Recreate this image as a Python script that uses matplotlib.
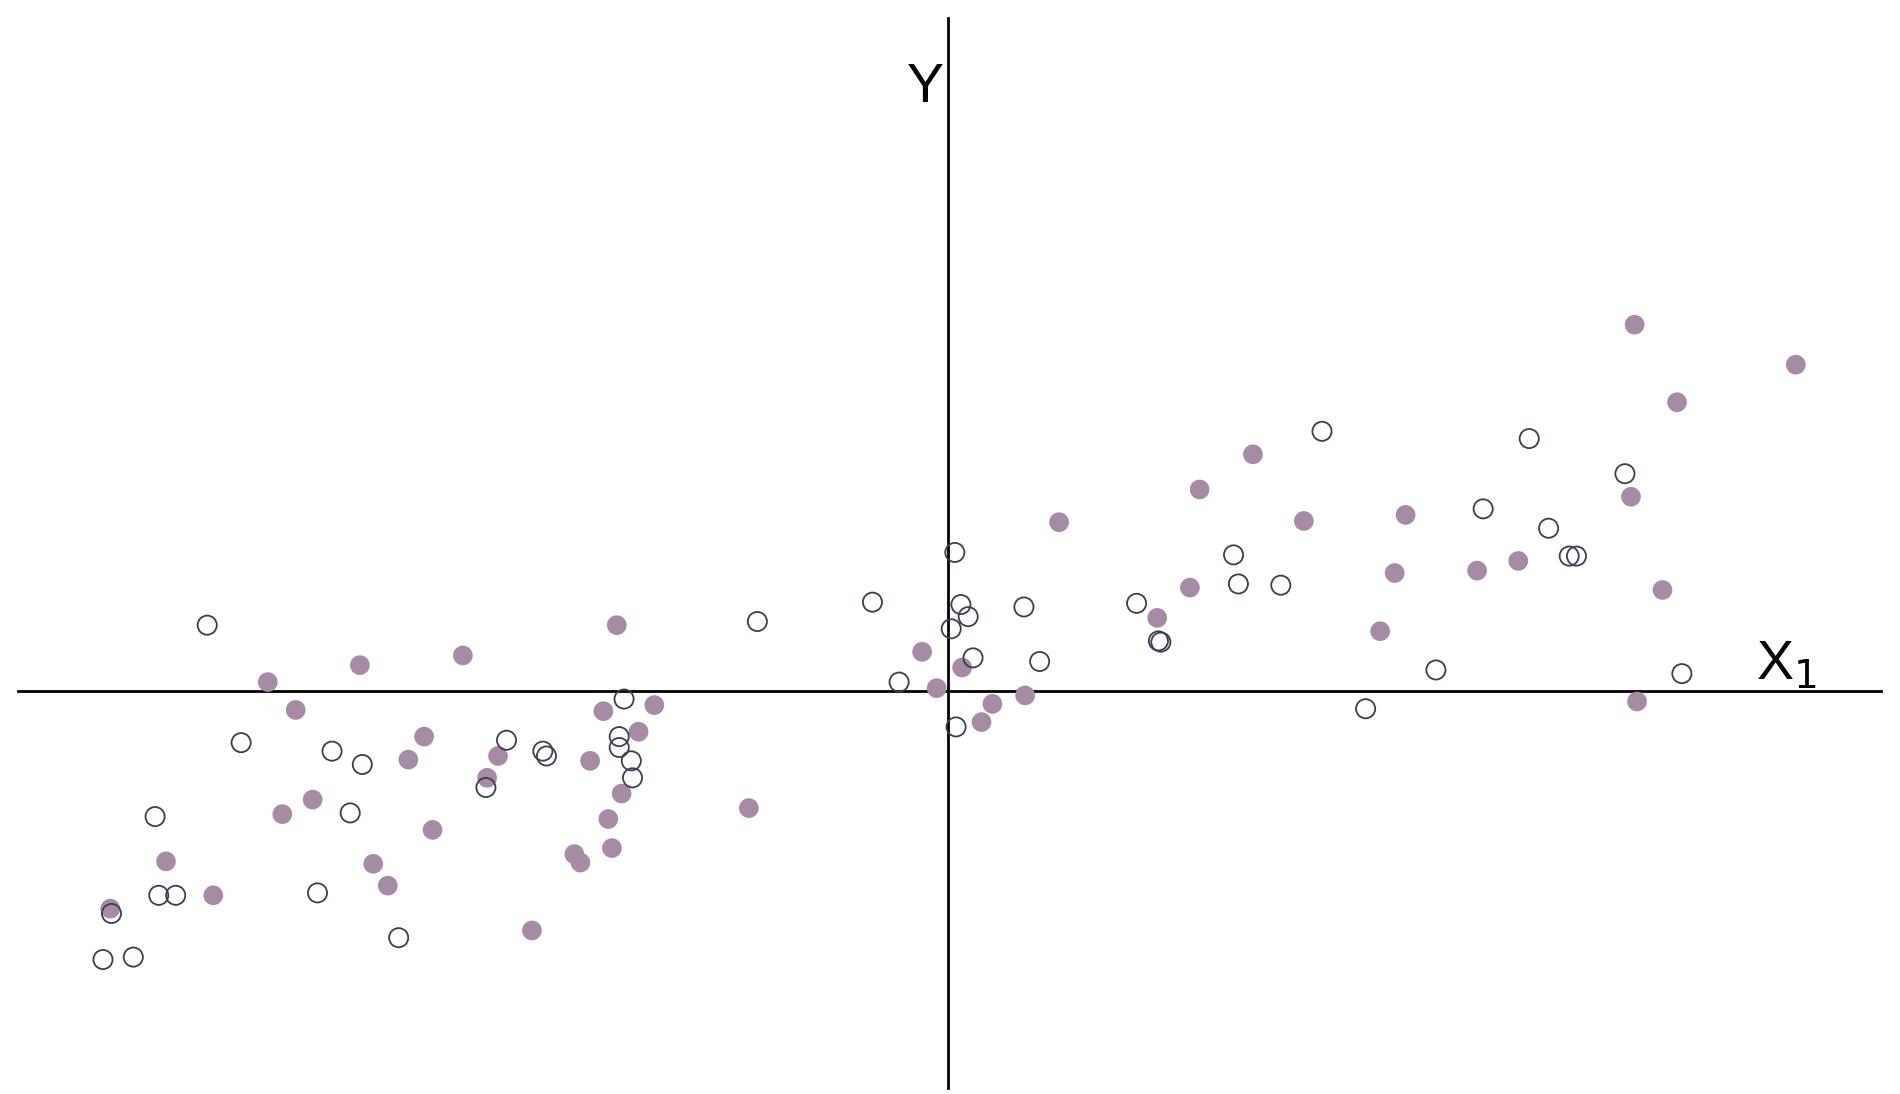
import matplotlib
matplotlib.use("Agg")
import matplotlib.pyplot as plt
import numpy as np

plt.rcParams['font.family'] = ['Liberation Sans', 'DejaVu Sans']

# data coords: x relative to vertical axis, y relative to horizontal axis
filled_x = [1349,1482,1384,1034,990,874,1076,1160,1346,1151,1219,1253,1372,982,955,1139,761,794,773,846,819,810,1351,
            509,382,297,221,244,540,498,527,350,411,337,487,402,513,258,233,618,502,357,474,505,479,137,308,320,176,91,439]
filled_y = [268,301,332,375,404,431,430,425,410,473,471,463,487,485,510,521,538,551,568,574,581,596,579,
            516,541,549,563,586,582,587,604,608,624,627,628,642,655,660,672,667,676,685,705,700,712,711,713,731,739,750,768]
open_x = [1091,1262,1341,1224,1278,788,1018,1295,1301,720,1022,1057,793,938,845,799,171,625,785,956,958,803,858,742,1185,1388,
          515,1127,789,199,418,511,448,274,451,299,511,521,522,401,128,289,131,145,262,92,329,85,110]
open_y = [356,362,391,420,436,456,458,459,459,497,482,483,499,498,501,509,516,513,519,529,530,543,546,563,553,556,
          577,585,600,613,611,608,620,620,624,631,617,628,642,650,674,671,739,739,737,754,774,792,790]

OX, OY = 782, 570
fx = np.array(filled_x) - OX; fy = OY - np.array(filled_y)
ox = np.array(open_x) - OX; oy = OY - np.array(open_y)

fig = plt.figure(figsize=(19, 10.94), dpi=100)
ax = fig.add_axes([0, 0, 1, 1])
ax.set_xlim(-OX, 1568 - OX)
ax.set_ylim(OY - 903, OY)

for s in ['top', 'right']:
    ax.spines[s].set_visible(False)
ax.spines['left'].set_position(('data', 0))
ax.spines['bottom'].set_position(('data', 0))
ax.spines['left'].set_bounds(OY - 898, OY - 15)
ax.spines['bottom'].set_bounds(15 - OX, 1552 - OX)
for s in ['left', 'bottom']:
    ax.spines[s].set_linewidth(2)
    ax.spines[s].set_color('black')
ax.set_xticks([]); ax.set_yticks([])

ax.scatter(fx, fy, s=200, color='#a78aa6', edgecolors='none', zorder=3)
ax.scatter(ox, oy, s=190, facecolors='none', edgecolors='#3a3f4f', linewidths=1.3, zorder=3)

ax.text(-18, 497, 'Y', fontsize=40, ha='center', va='center')
ax.text(692, 21, 'X$_1$', fontsize=40, ha='center', va='center')

fig.savefig('out.png', dpi=100)
